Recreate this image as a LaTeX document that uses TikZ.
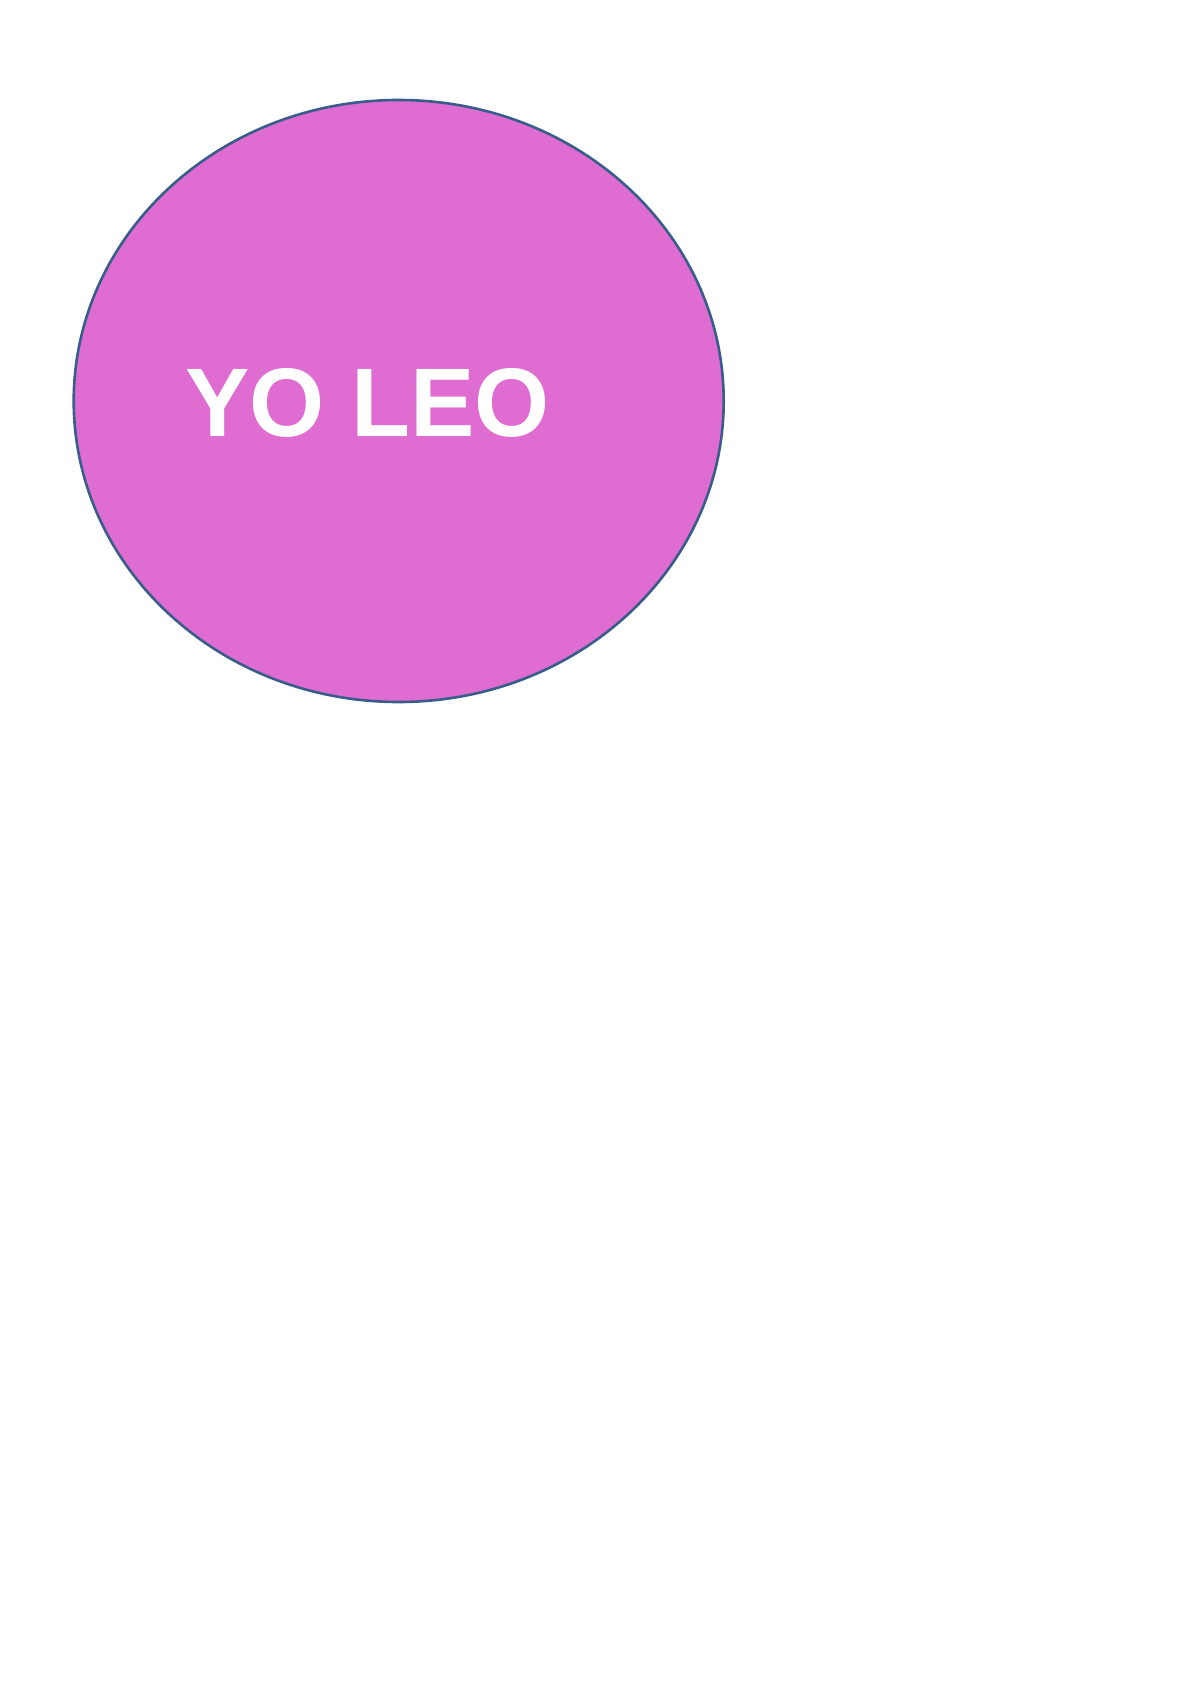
\documentclass[tikz,border=0pt]{standalone}
\usepackage{fontspec}
\newfontfamily\labelfont{Liberation Sans}
\usetikzlibrary{shapes.geometric}
\definecolor{bubblefill}{RGB}{223,108,208}
\definecolor{bubbleline}{RGB}{56,93,138}
\tikzset{
  bubble/.style={ellipse, draw=bubbleline, fill=bubblefill, line width=2.6pt,
    minimum width=650pt, minimum height=602pt, inner sep=0pt},
  bubbletext/.style={text=white, inner sep=0pt,
    font=\labelfont\bfseries\fontsize{97.5pt}{100pt}\selectfont}
}
\begin{document}
\begin{tikzpicture}[x=1pt,y=-1pt]
  \useasboundingbox (0,0) rectangle (1200,1696);
  \node[bubble] (b) at (398.7,401) {};
  \node[bubbletext, anchor=base, xscale=0.99] (t) at (367.5,436) {YO LEO};
\end{tikzpicture}
\end{document}
